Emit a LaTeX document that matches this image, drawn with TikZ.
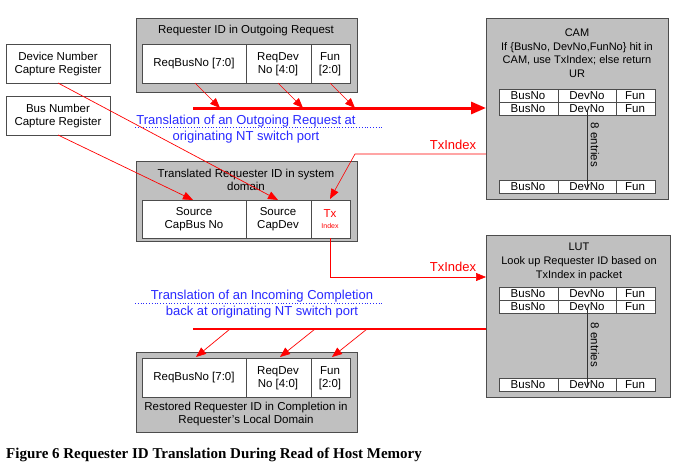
\documentclass[tikz,border=0pt]{standalone}
\usepackage{fontspec}
\setmainfont{Liberation Sans}
\newfontfamily\capfont{Liberation Serif}
\usetikzlibrary{arrows.meta}
\definecolor{boxgray}{RGB}{192,192,192}
\definecolor{tblue}{RGB}{40,40,255}
\begin{document}
\begin{tikzpicture}[x=1pt,y=-1pt,
  txt/.style={font=\fontsize{11.5}{13.5}\selectfont,align=center,inner sep=0},
  gbox/.style={draw=black!70,fill=boxgray,line width=0.8pt},
  wbox/.style={draw=black!70,fill=white,line width=0.6pt},
  rarr/.style={red,line width=0.7pt,-{Triangle[length=10pt,width=8pt]}},
  row/.style={txt,font=\fontsize{11.5}{12}\selectfont}]
\useasboundingbox (0,0) rectangle (681,471);
% top box
\draw[gbox] (136,18) rectangle (357,92);
\node[txt] (t1) at (246,31) {Requester ID in Outgoing Request};
\draw[wbox] (142,44) rectangle (350,83);
\draw[black!70] (246,44)--(246,83) (311,44)--(311,83);
\node[txt] (a1) at (194,64) {ReqBusNo [7:0]};
\node[txt] (a2) at (278,64) {ReqDev\\No [4:0]};
\node[txt] (a3) at (330,64) {Fun\\{[2:0]}};
% capture registers
\draw[wbox] (6,44) rectangle (110,83);
\node[txt] (dev) at (58,64) {Device Number\\Capture Register};
\draw[wbox] (6,96) rectangle (110,135);
\node[txt] (bus) at (58,116) {Bus Number\\Capture Register};
% translated box
\draw[gbox] (136,161) rectangle (357,241);
\node[txt] (t2) at (246,180) {Translated Requester ID in system\\domain};
\draw[wbox] (142,200) rectangle (350,238);
\draw[black!70] (246,200)--(246,238) (311,200)--(311,238);
\node[txt] (b1) at (194,219) {Source\\CapBus No};
\node[txt] (b2) at (278,219) {Source\\CapDev};
\node[txt,red] (b3) at (330,219) {Tx\\[-2pt]{\fontsize{7}{8}\selectfont Index}};
% bottom box
\draw[gbox] (136,352) rectangle (357,432);
\draw[wbox] (142,358) rectangle (350,397);
\draw[black!70] (246,358)--(246,397) (311,358)--(311,397);
\node[txt] (c1) at (194,378) {ReqBusNo [7:0]};
\node[txt] (c2) at (278,378) {ReqDev\\No [4:0]};
\node[txt] (c3) at (330,378) {Fun\\{[2:0]}};
\node[txt] (t3) at (246,414) {Restored Requester ID in Completion in\\Requester's Local Domain};
% CAM
\draw[gbox] (486,18) rectangle (668,199);
\node[txt,font=\fontsize{11}{13.5}\selectfont] (cam) at (577,53) {CAM\\If \{BusNo, DevNo,FunNo\} hit in\\CAM, use TxIndex; else return\\UR};
\foreach \y in {89,102,180}{
  \draw[wbox] (499,\y) rectangle (655,\y+13);
  \draw[black!70] (558,\y)--(558,\y+13) (616,\y)--(616,\y+13);
  \node[row] at (528,\y+6.5) {BusNo};
  \node[row] at (587,\y+6.5) {DevNo};
  \node[row] at (635,\y+6.5) {Fun};}
\draw[black!80] (587,110)--(587,188);
\node[row,rotate=-90] (e1) at (595,145) {8 entries};
% LUT
\draw[gbox] (486,235) rectangle (670,397);
\node[txt,font=\fontsize{11}{14}\selectfont] (lut) at (579,262) {LUT\\Look up Requester ID based on\\TxIndex in packet};
\foreach \y in {287,300,378}{
  \draw[wbox] (499,\y) rectangle (655,\y+13);
  \draw[black!70] (558,\y)--(558,\y+13) (616,\y)--(616,\y+13);
  \node[row] at (528,\y+6.5) {BusNo};
  \node[row] at (587,\y+6.5) {DevNo};
  \node[row] at (635,\y+6.5) {Fun};}
\draw[black!80] (587,308)--(587,386);
\node[row,rotate=-90] (e2) at (595,345) {8 entries};
% outgoing thick arrow
\coordinate (s1) at (193,108);
\coordinate (camin) at (486,108);
\draw[red,line width=3pt,-{Triangle[length=15pt,width=12pt]}] (s1)--(camin);
\coordinate (m1) at (220,108); \coordinate (m2) at (303,108); \coordinate (m3) at (355,108);
\draw[rarr] (195,83)--(m1);
\draw[rarr] (278,83)--(m2);
\draw[rarr] (330,83)--(m3);
% blue texts
\node[txt,tblue,font=\fontsize{13}{16}\selectfont] (bl1) at (246,129) {Translation of an Outgoing Request at\\originating NT switch port};
\draw[tblue,dotted,line width=0.8pt] (135,127.5)--(382,127.5);
\node[txt,tblue,font=\fontsize{13}{16}\selectfont] (bl2) at (262,304) {Translation of an Incoming Completion\\back at originating NT switch port};
\draw[tblue,dotted,line width=0.8pt] (135,303.5)--(382,303.5);
% capture arrows
\draw[rarr] (58,83)--(278,200);
\draw[rarr] (58,135)--(193,200);
% TxIndex from CAM
\node[txt,red,font=\fontsize{13}{14}\selectfont] (tx1) at (453,145) {TxIndex};
\draw[red,line width=0.6pt,-{Triangle[length=10pt,width=8pt]}] (486,154)--(355,154)--(330,199);
% TxIndex to LUT
\node[txt,red,font=\fontsize{13}{14}\selectfont] (tx2) at (453,267) {TxIndex};
\coordinate (lutin) at (486,277);
\draw[red,line width=0.6pt,-{Triangle[length=10pt,width=8pt]}] (330,238)--(330,277)--(lutin);
% return line
\draw[red,line width=1.2pt] (486,329)--(193,329);
\draw[rarr] (230,329)--(196,357);
\draw[rarr] (315,329)--(280,357);
\draw[rarr] (367,329)--(332,357);
% caption
\node[anchor=west,inner sep=0,font=\capfont\bfseries\fontsize{15}{17}\selectfont] (cap) at (6,455) {Figure 6 Requester ID Translation During Read of Host Memory};
\end{tikzpicture}
\end{document}
